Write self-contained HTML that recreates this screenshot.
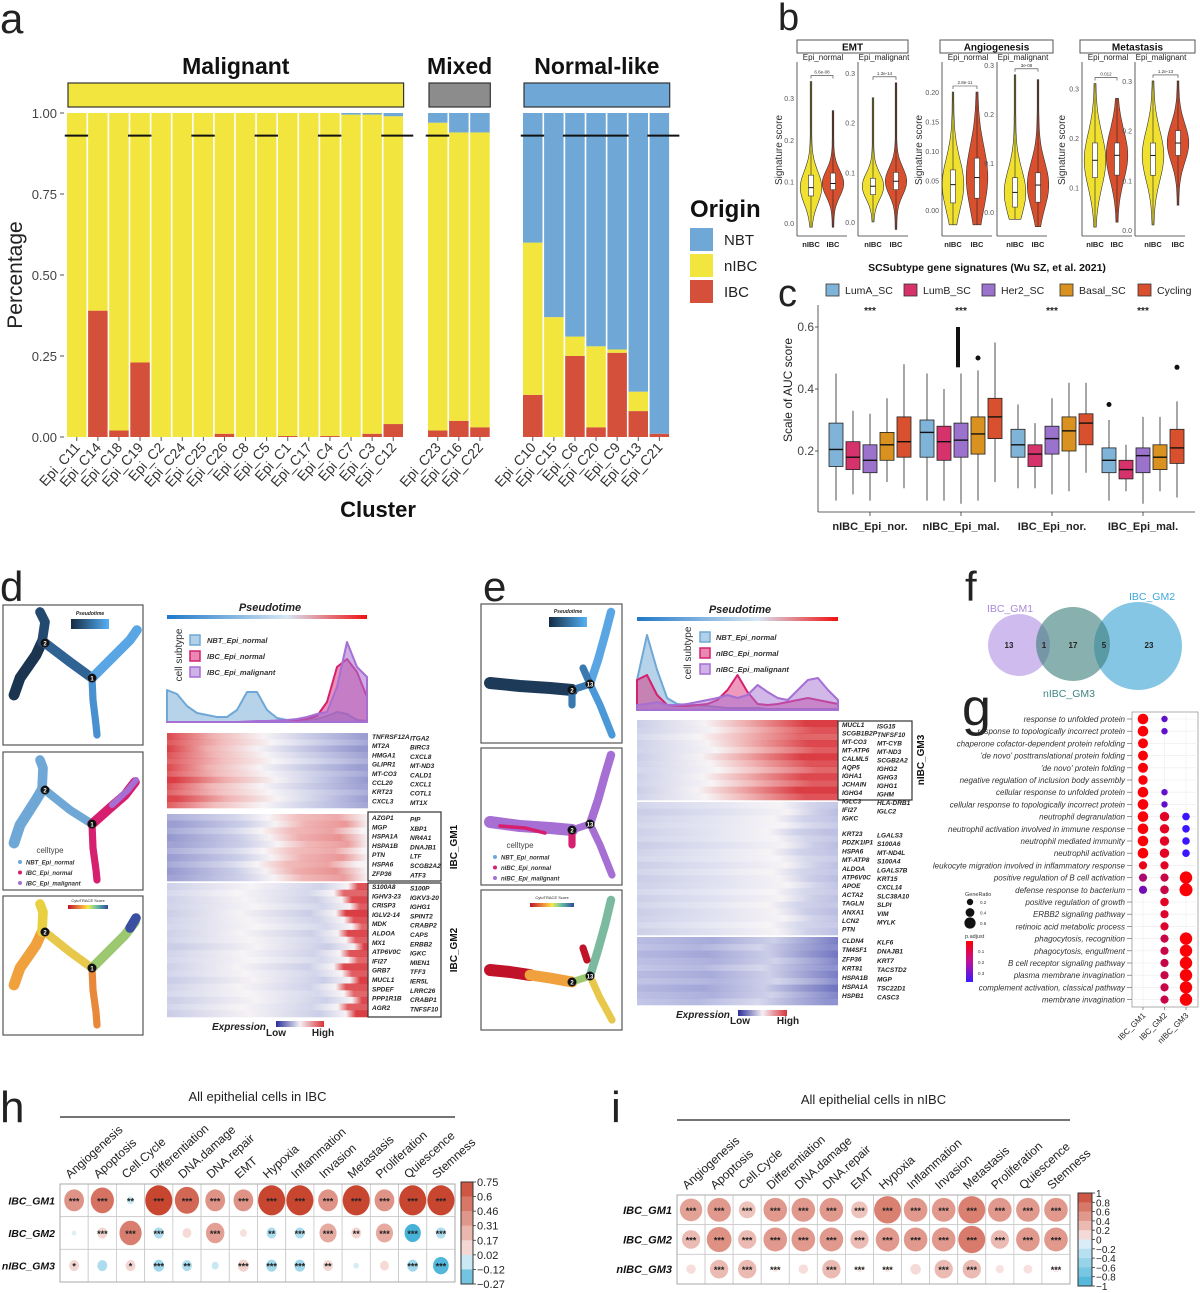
<!DOCTYPE html>
<html><head><meta charset="utf-8"><style>
html,body{margin:0;padding:0;background:#fff;}
svg{display:block;font-family:"Liberation Sans",sans-serif;}
</style></head><body>
<svg id="fig" width="1200" height="1293" viewBox="0 0 1200 1293" xmlns="http://www.w3.org/2000/svg">
<defs>
<linearGradient id="ptime" x1="0" x2="1"><stop offset="0" stop-color="#1f78c8"/><stop offset="0.6" stop-color="#d6e6f4"/><stop offset="1" stop-color="#f01010"/></linearGradient>
<linearGradient id="exprg" x1="0" x2="1"><stop offset="0" stop-color="#2a2e9a"/><stop offset="0.5" stop-color="#f4f0f4"/><stop offset="1" stop-color="#d8343a"/></linearGradient>
<linearGradient id="padj" x1="0" x2="0" y1="0" y2="1"><stop offset="0" stop-color="#ff0000"/><stop offset="0.5" stop-color="#c0109a"/><stop offset="1" stop-color="#3a1aff"/></linearGradient>
<linearGradient id="ptleg" x1="0" x2="1"><stop offset="0" stop-color="#132b43"/><stop offset="1" stop-color="#56b1f7"/></linearGradient>
<linearGradient id="cytoleg" x1="0" x2="1"><stop offset="0" stop-color="#c0132a"/><stop offset="0.35" stop-color="#f6a13c"/><stop offset="0.5" stop-color="#f5e94a"/><stop offset="0.7" stop-color="#6cc3a0"/><stop offset="1" stop-color="#2c4aa0"/></linearGradient>
</defs>
</svg>
<script>
const svg=document.getElementById('fig');
const NS='http://www.w3.org/2000/svg';
function mk(tag,attrs,name,parent){
  const el=document.createElementNS(NS,tag);
  for(const k in attrs) el.setAttribute(k,attrs[k]);
  
  
  (parent||svg).appendChild(el);
  return el;
}
function tx(x,y,s,o,name){
  o=o||{};
  const a={x:x,y:y,'font-size':o.fs||10,fill:o.fill||'#222','text-anchor':o.anchor||'start'};
  if(o.w) a['font-weight']=o.w;
  if(o.it) a['font-style']='italic';
  if(o.rot!==undefined) a.transform='rotate('+o.rot+' '+x+' '+y+')';
  const el=mk('text',a,name||'label');
  el.textContent=s;
  return el;
}
function line(x1,y1,x2,y2,st,sw,name){return mk('line',{x1,y1,x2,y2,stroke:st||'#333','stroke-width':sw||1},name||'line');}
function rect(x,y,w,h,f,st,name,sw){const a={x,y,width:w,height:h,fill:f};if(st){a.stroke=st;a['stroke-width']=sw||1;}return mk('rect',a,name||'rect');}

/* ================= PANEL A ================= */
const aClusters=['Epi_C11','Epi_C14','Epi_C18','Epi_C19','Epi_C2','Epi_C24','Epi_C25','Epi_C26','Epi_C8','Epi_C5','Epi_C1','Epi_C17','Epi_C4','Epi_C7','Epi_C3','Epi_C12','Epi_C23','Epi_C16','Epi_C22','Epi_C10','Epi_C15','Epi_C6','Epi_C20','Epi_C9','Epi_C13','Epi_C21'];
const aGroup=[0,0,0,0,0,0,0,0,0,0,0,0,0,0,0,0,1,1,1,2,2,2,2,2,2,2];
const aIBC=[0,0.39,0.02,0.23,0,0,0,0.01,0,0,0.003,0,0.003,0,0.01,0.04,0.02,0.05,0.03,0.13,0,0.25,0.03,0.26,0.08,0.01];
const aNIBC=[1,0.61,0.98,0.77,1,1,1,0.99,1,1,0.997,1,0.997,0.995,0.985,0.95,0.95,0.89,0.91,0.47,0.37,0.06,0.25,0.01,0.06,0];
const aNBT=[0,0,0,0,0,0,0,0,0,0,0,0,0,0.005,0.005,0.01,0.03,0.06,0.06,0.40,0.63,0.69,0.72,0.73,0.86,0.99];
const aGroupNames=['Malignant','Mixed','Normal-like'];
const aGroupColors=['#f2e53d','#8c8c8c','#6fa8d6'];
const aYTicks=[0,0.25,0.5,0.75,1];
const aMedian=[0.93,0.93,0.93];
const aY=v=>437-v*324;
const aStart=[67,428,523],aStep=21.1,aBW=19.5;
const col={NBT:'#6fa8d6',nIBC:'#f2e53d',IBC:'#d4503a'};
tx(0,33,'a',{fs:42},'panel-a-label');
tx(22,275,'Percentage',{fs:21,anchor:'middle',rot:-90},'y-axis-title');
aYTicks.forEach(t=>{tx(57,aY(t)+5,t.toFixed(2),{fs:13,anchor:'end',fill:'#444'},'y-tick-label');line(60,aY(t),64,aY(t),'#555',1,'y-tick');});
aClusters.forEach((c,i)=>{
  const g=aGroup[i];const k=aClusters.slice(0,i).filter((_,j)=>aGroup[j]===g).length;
  const x=aStart[g]+k*aStep;
  let y0=0;
  [[aIBC[i],col.IBC,'bar-ibc'],[aNIBC[i],col.nIBC,'bar-nibc'],[aNBT[i],col.NBT,'bar-nbt']].forEach(s=>{
    if(s[0]>0) rect(x,aY(y0+s[0]),aBW,s[0]*324,s[1],null,s[2]+'-'+c);
    y0+=s[0];
  });
  const cx=x+aBW/2;
  line(cx,437,cx,441,'#555',1,'x-tick');
  tx(cx+4,448,c,{fs:14,anchor:'end',rot:-48,fill:'#333'},'x-tick-label');
  if(k%3===0 || (g===2&&k%2===0)) line(cx-12,aY(aMedian[g]),cx+20,aY(aMedian[g]),'#111',2,'median-line');
});
const aGroupCounts=[16,3,7];
aGroupNames.forEach((n,g)=>{
  const x0=aStart[g]+1,w=aGroupCounts[g]*aStep-2;
  rect(x0,83,w,24,aGroupColors[g],'#333','group-header-'+n.toLowerCase(),1.2);
  tx(x0+w/2,74,n,{fs:23,w:'bold',anchor:'middle',fill:'#111'},'group-title');
});
tx(378,517,'Cluster',{fs:22,w:'bold',anchor:'middle',fill:'#111'},'x-axis-title');
tx(690,217,'Origin',{fs:24,w:'bold',fill:'#111'},'legend-title');
[['NBT',col.NBT],['nIBC',col.nIBC],['IBC',col.IBC]].forEach((l,i)=>{
  rect(690,228+i*26,23,23,l[1],null,'legend-swatch-'+l[0]);
  tx(724,245+i*26,l[0],{fs:15,fill:'#222'},'legend-entry');
});

/* ================= PANEL B ================= */
tx(778,30,'b',{fs:38},'panel-b-label');
const bTitles=['EMT','Angiogenesis','Metastasis'];
const bTitleX=[[797,908],[940,1053],[1080,1195]];
const bSubs=['Epi_normal','Epi_malignant'];
const bAxisX=[797,858,942,997,1082,1135];
const bZeroY=[223,222,210,212,237,230];
const bPerUnit=[416,497,590,490,495,497];
const bTicks=[[0,0.1,0.2,0.3],[0,0.1,0.2,0.3],[0,0.05,0.1,0.15,0.2],[0,0.1,0.2,0.3],[0.1,0.2,0.3],[0,0.1,0.2,0.3]];
const bPval=['6.6e-08','1.3e-14','2.8e-11','3e-08','0.012','1.2e-13'];
const bCenters=[[811,833],[873,896],[953,977],[1015,1038],[1095,1117],[1153,1178]];
const bNIBC=[[-0.01,0.065,0.085,0.115,0.34],[0,0.055,0.072,0.088,0.25],[-0.025,0.012,0.043,0.068,0.2],[-0.015,0.01,0.04,0.07,0.28],[0.02,0.12,0.155,0.19,0.31],[0.01,0.11,0.15,0.175,0.3]];
const bIBC=[[-0.01,0.08,0.095,0.12,0.27],[-0.015,0.065,0.082,0.1,0.28],[-0.025,0.02,0.055,0.088,0.2],[-0.03,0.02,0.055,0.08,0.27],[0.03,0.125,0.165,0.19,0.28],[0.05,0.15,0.175,0.2,0.3]];
bTitles.forEach((t,i)=>{
  const [a,b]=bTitleX[i];
  rect(a,40,b-a,13,'#fff','#555','strip-'+t.toLowerCase(),1);
  tx((a+b)/2,50.5,t,{fs:10,w:'bold',anchor:'middle',fill:'#111'},'strip-title');
  tx([782,922,1065][i],150,'Signature score',{fs:10,anchor:'middle',rot:-90,fill:'#333'},'y-axis-title');
});
function violin(cx,st,yf,fill,name){
  const [lo,q1,med,q3,hi]=st;const sp=Math.max(q3-q1,0.01)*1.1;
  let L=[],R=[];
  for(let j=0;j<=30;j++){const v=lo+(hi-lo)*j/30;let w=10*Math.exp(-Math.pow((v-med)/sp,2))+0.8;L.push([cx-w,yf(v)]);R.push([cx+w,yf(v)]);}
  const d='M'+L.map(p=>p[0].toFixed(1)+','+p[1].toFixed(1)).join('L')+'L'+R.reverse().map(p=>p[0].toFixed(1)+','+p[1].toFixed(1)).join('L')+'Z';
  mk('path',{d,fill,stroke:'#333','stroke-width':0.6},name);
  line(cx,yf(lo),cx,yf(hi),'#222',0.6,'violin-whisker');
  rect(cx-2.5,yf(q3),5,yf(q1)-yf(q3),'#fff','#333','violin-box',0.6);
  line(cx-2.5,yf(med),cx+2.5,yf(med),'#111',1,'violin-median');
}
bAxisX.forEach((ax,s)=>{
  const yf=v=>bZeroY[s]-v*bPerUnit[s];
  const right=ax+50;
  line(ax,62,ax,236,'#333',0.8,'y-axis-line');
  line(ax,236,right,236,'#333',0.8,'x-axis-line');
  bTicks[s].forEach(t=>{tx(ax-3,yf(t)+3,t===0?(s===2?'0.00':'0.0'):(s===2?t.toFixed(2):t.toFixed(1)),{fs:7,anchor:'end',fill:'#555'},'y-tick-label');});
  tx(ax+26,60,bSubs[s%2],{fs:8,anchor:'middle',fill:'#222'},'facet-label');
  const [c1,c2]=bCenters[s];
  violin(c1,bNIBC[s],yf,'#f0e130','violin-nibc');
  violin(c2,bIBC[s],yf,'#d9502f','violin-ibc');
  const by=yf(Math.max(bNIBC[s][4],bIBC[s][4]))-6;
  mk('path',{d:`M${c1},${by+3}V${by}H${c2}V${by+3}`,fill:'none',stroke:'#333','stroke-width':0.6},'significance-bracket');
  tx((c1+c2)/2,by-2,bPval[s],{fs:4.5,anchor:'middle',fill:'#333'},'p-value');
  tx(c1,247,'nIBC',{fs:7.5,w:'bold',anchor:'middle',fill:'#222'},'x-tick-label');
  tx(c2,247,'IBC',{fs:7.5,w:'bold',anchor:'middle',fill:'#222'},'x-tick-label');
});

/* ================= PANEL C ================= */
tx(778,306,'c',{fs:38},'panel-c-label');
tx(987,271,'SCSubtype gene signatures (Wu SZ, et al. 2021)',{fs:10.5,w:'bold',anchor:'middle',fill:'#111'},'chart-title');
const cSubtypes=['LumA_SC','LumB_SC','Her2_SC','Basal_SC','Cycling'];
const cColors=['#7fb3d8','#d6336c','#9b72cc','#d9921f','#d9502f'];
const cGroups=['nIBC_Epi_nor.','nIBC_Epi_mal.','IBC_Epi_nor.','IBC_Epi_mal.'];
const cYTicks=[0.2,0.4,0.6];
const cLumA=[[0.04,0.15,0.205,0.29,0.45],[0.04,0.18,0.26,0.30,0.45],[0.08,0.18,0.22,0.27,0.35],[0.04,0.13,0.17,0.21,0.30]];
const cLumB=[[0.06,0.14,0.18,0.23,0.33],[0.04,0.17,0.23,0.28,0.40],[0.08,0.15,0.19,0.22,0.29],[0.07,0.11,0.14,0.17,0.22]];
const cHer2=[[0.04,0.13,0.17,0.22,0.32],[0.03,0.18,0.235,0.29,0.45],[0.06,0.19,0.24,0.28,0.37],[0.03,0.13,0.185,0.21,0.31]];
const cBasal=[[0.10,0.17,0.22,0.26,0.37],[0.04,0.19,0.255,0.31,0.46],[0.07,0.20,0.265,0.31,0.42],[0.07,0.14,0.18,0.22,0.31]];
const cCyc=[[0.08,0.18,0.23,0.31,0.48],[0.10,0.24,0.31,0.37,0.55],[0.13,0.22,0.29,0.32,0.42],[0.05,0.16,0.21,0.27,0.36]];
const cSig=['***','***','***','***'];
const cY=v=>513-v*310;
const cGX=g=>870+g*91;
tx(792,390,'Scale of AUC score',{fs:12,anchor:'middle',rot:-90,fill:'#222'},'y-axis-title');
line(818,305,818,512,'#333',0.8,'y-axis-line');
line(818,512,1195,512,'#333',0.8,'x-axis-line');
cYTicks.forEach(t=>{tx(814,cY(t)+4,t.toFixed(1),{fs:12,anchor:'end',fill:'#444'},'y-tick-label');line(815,cY(t),818,cY(t),'#333',0.8,'y-tick');});
cSubtypes.forEach((s,i)=>{
  const lx=826+i*78;
  rect(lx,284,13,12,cColors[i],'#333','legend-swatch-'+s,0.8);
  tx(lx+19,294,s,{fs:10.5,fill:'#222'},'legend-entry');
});
[cLumA,cLumB,cHer2,cBasal,cCyc].forEach((arr,si)=>{
  arr.forEach((st,g)=>{
    const cx=cGX(g)+(si-2)*17;const [lo,q1,m,q3,hi]=st;
    line(cx,cY(lo),cx,cY(hi),'#222',0.8,'whisker');
    rect(cx-7,cY(q3),14,cY(q1)-cY(q3),cColors[si],'#222','box-'+cSubtypes[si]+'-'+cGroups[g],0.8);
    line(cx-7,cY(m),cx+7,cY(m),'#111',1.4,'box-median');
  });
});
mk('rect',{x:956,y:cY(0.6),width:4,height:cY(0.47)-cY(0.6),fill:'#111'},'outlier-cluster');
[[1,3,0.5],[3,4,0.47],[3,0,0.35]].forEach(o=>mk('circle',{cx:cGX(o[0])+(o[1]-2)*17,cy:cY(o[2]),r:2.5,fill:'#111'},'outlier'));
cGroups.forEach((g,i)=>{
  tx(cGX(i),314,cSig[i],{fs:10,w:'bold',anchor:'middle',fill:'#222'},'significance-label');
  line(cGX(i),512,cGX(i),516,'#333',0.8,'x-tick');
  tx(cGX(i),530,g,{fs:11,w:'bold',anchor:'middle',fill:'#222'},'x-tick-label');
});

/* ================= UMAP helpers ================= */
function umapBox(x,y,w,h,name){rect(x,y,w,h,'#fff','#555',name,1.2);}
function traj(pts,color,sw,name){mk('polyline',{points:pts.map(p=>p.join(',')).join(' '),fill:'none',stroke:color,'stroke-width':sw*1.2,'stroke-linecap':'round','stroke-linejoin':'round'},name);}
function node(x,y,l){mk('circle',{cx:x,cy:y,r:4.5,fill:'#111'},'branch-node');tx(x,y+2.5,l,{fs:6,w:'bold',anchor:'middle',fill:'#fff'},'node-label');}

/* ================= PANEL D ================= */
tx(0,601,'d',{fs:42},'panel-d-label');
umapBox(3,605,140,140,'umap-pseudotime');
traj([[14,695],[20,678],[36,655],[42,642]],'#1b3550',9,'branch-left');
traj([[42,642],[45,622],[40,612]],'#24496e',8,'branch-top');
traj([[45,643],[70,662],[92,678]],'#2f6394',8,'branch-mid');
traj([[92,678],[115,655],[130,640],[137,630]],'#5aa6e4',8,'branch-right');
traj([[92,678],[93,700],[96,725],[97,735]],'#4890cf',6,'branch-bottom');
node(45,643,'2');node(92,678,'1');
rect(71,619,38,10,'url(#ptleg)',null,'pseudotime-legend');
tx(90,615,'Pseudotime',{fs:5,w:'bold',it:true,anchor:'middle'},'legend-title');
umapBox(3,752,140,138,'umap-celltype');
traj([[14,843],[20,825],[36,800],[42,790]],'#6fa8d6',9,'branch-left');
traj([[42,790],[43,768],[40,760]],'#6fa8d6',8,'branch-top');
traj([[45,790],[70,810],[92,824]],'#6fa8d6',7,'branch-mid');
traj([[92,824],[110,808],[125,795],[135,782]],'#d6206f',8,'branch-right');
traj([[112,805],[128,790],[136,780]],'#a56fd4',5,'branch-right-mal');
traj([[92,824],[93,848],[96,870],[97,880]],'#d6206f',6,'branch-bottom');
node(45,790,'2');node(92,824,'1');
tx(50,853,'celltype',{fs:8,anchor:'middle',fill:'#444'},'legend-title');
[['NBT_Epi_normal','#6fa8d6'],['IBC_Epi_normal','#d6206f'],['IBC_Epi_malignant','#a56fd4']].forEach((l,i)=>{
  mk('circle',{cx:20,cy:862+i*10.5,r:2,fill:l[1]},'legend-dot');
  tx(26,864.5+i*10.5,l[0],{fs:6,w:'bold',it:true,fill:'#333'},'legend-entry');
});
umapBox(3,896,140,139,'umap-cytotrace');
traj([[14,985],[20,968],[36,945],[42,932]],'#f0a03c',9,'branch-left');
traj([[42,932],[43,912],[40,904]],'#e8d040',8,'branch-top');
traj([[45,932],[70,952],[92,968]],'#e8c84a',7,'branch-mid');
traj([[92,968],[110,950],[125,935],[135,922]],'#9cc870',8,'branch-right');
traj([[130,928],[136,918]],'#3a4fa0',8,'branch-right-tip');
traj([[92,968],[93,990],[96,1012],[97,1025]],'#e8883a',6,'branch-bottom');
node(45,932,'2');node(92,968,'1');
rect(68,905,40,4,'url(#cytoleg)',null,'cytotrace-legend');
tx(88,902,'CytoTRACE Score',{fs:4,anchor:'middle'},'legend-title');

function densityPanel(x0,x1,base,scale,series,colors,fills,name){
  series.forEach((arr,si)=>{
    const n=arr.length;const pts=arr.map((v,i)=>[x0+(x1-x0)*i/(n-1),base-v*scale]);
    let d='M'+x0+','+base+' L'+pts.map(p=>p[0].toFixed(1)+','+p[1].toFixed(1)).join(' L')+' L'+x1+','+base+'Z';
    mk('path',{d,fill:fills[si],stroke:colors[si],'stroke-width':2,'stroke-linejoin':'round'},name+'-'+si);
  });
}
tx(270,611,'Pseudotime',{fs:11,w:'bold',it:true,anchor:'middle'},'pseudotime-title');
rect(167,615,200,4,'url(#ptime)',null,'pseudotime-bar');
tx(182,655,'cell subtype',{fs:10,anchor:'middle',rot:-90,fill:'#333'},'legend-title');
const dNBT=[0.32,0.28,0.16,0.09,0.07,0.05,0.05,0.12,0.3,0.3,0.12,0.04,0.02,0.02,0.02,0.03,0.06,0.1,0.08,0.02,0.01];
const dIBCn=[0,0,0,0,0,0,0,0,0,0,0,0,0.01,0.02,0.03,0.06,0.2,0.55,0.63,0.5,0.25];
const dIBCm=[0,0,0,0,0,0,0,0,0.005,0.01,0.01,0.015,0.02,0.03,0.05,0.08,0.1,0.35,0.8,0.55,0.45];
densityPanel(167,367,722,100,[dNBT,dIBCn,dIBCm],['#6fa8d6','#d6206f','#a56fd4'],['rgba(111,168,214,0.5)','rgba(214,32,111,0.5)','rgba(165,111,212,0.55)'],'density-d');
[['NBT_Epi_normal','#6fa8d6'],['IBC_Epi_normal','#d6206f'],['IBC_Epi_malignant','#a56fd4']].forEach((l,i)=>{
  rect(190,635+i*16,10,10,l[1]+'88',l[1],'legend-swatch',1.5);
  tx(207,643+i*16,l[0],{fs:7.5,w:'bold',it:true,fill:'#333'},'legend-entry');
});
function heatBlock(x,y,w,h,nrows,stops,seed,name){
  for(let r=0;r<nrows;r++){
    const id=name+'g'+r;
    const g=mk('linearGradient',{id,x1:0,x2:1},'row-gradient',svg.querySelector('defs'));
    const shift=((r*37+seed)%11-5)/100;
    stops.forEach(s=>{mk('stop',{offset:Math.min(1,Math.max(0,s[0]+shift)),'stop-color':s[1],'stop-opacity':0.75+((r*13+seed)%5)/20},'gradient-stop',g);});
    rect(x,y+r*h/nrows,w,h/nrows+0.3,'url(#'+id+')',null,name+'-row');
  }
}
const RED='#d8343a',LRED='#eeaaaa',WH='#f5f1f4',LBL='#c8cbe6',BL='#8f93cc';
heatBlock(167,733,201,75,12,[[0,RED],[0.25,LRED],[0.5,WH],[0.7,LBL],[1,BL]],3,'heat-d1');
heatBlock(167,814,201,67,10,[[0,BL],[0.35,LBL],[0.5,WH],[0.65,LRED],[0.85,'#e88c8c'],[1,WH]],5,'heat-d2');
heatBlock(167,883,201,134,20,[[0,LBL],[0.4,WH],[0.75,LBL],[0.88,WH],[0.93,RED],[1,RED]],7,'heat-d3');
const dGenes1=[['TNFRSF12A','ITGA2'],['MT2A','BIRC3'],['HMGA1','CXCL8'],['GLIPR1','MT-ND3'],['MT-CO3','CALD1'],['CCL20','CXCL1'],['KRT23','COTL1'],['CXCL3','MT1X']];
const dGenes2=[['AZGP1','PIP'],['MGP','XBP1'],['HSPA1A','NR4A1'],['HSPA1B','DNAJB1'],['PTN','LTF'],['HSPA6','SCGB2A2'],['ZFP36','ATF3']];
const dGenes3=[['S100A8','S100P'],['IGHV3-23','IGKV3-20'],['CRISP3','IGHG1'],['IGLV2-14','SPINT2'],['MDK','CRABP2'],['ALDOA','CAPS'],['MX1','ERBB2'],['ATP6V0C','IGKC'],['IFI27','MIEN1'],['GRB7','TFF3'],['MUCL1','IER5L'],['SPDEF','LRRC26'],['PPP1R1B','CRABP1'],['AGR2','TNFSF10']];
function geneList(list,x1,x2,y0,dy,name){list.forEach((p,i)=>{tx(x1,y0+i*dy,p[0],{fs:6.5,w:'bold',it:true,fill:'#222'},name);tx(x2,y0+i*dy+1.5,p[1],{fs:6.5,w:'bold',it:true,fill:'#222'},name);});}
geneList(dGenes1,372,410,739,9.2,'gene-label');
geneList(dGenes2,372,410,820,9.3,'gene-label');
geneList(dGenes3,372,410,889,9.3,'gene-label');
rect(368,812,73,69,'none','#333','gm1-gene-box',1.2);
rect(368,883,73,134,'none','#333','gm2-gene-box',1.2);
tx(457,847,'IBC_GM1',{fs:10,w:'bold',anchor:'middle',rot:-90,fill:'#111'},'module-label');
tx(457,950,'IBC_GM2',{fs:10,w:'bold',anchor:'middle',rot:-90,fill:'#111'},'module-label');
tx(212,1030,'Expression',{fs:10,w:'bold',it:true,fill:'#222'},'expression-legend-title');
rect(276,1021,48,6,'url(#exprg)',null,'expression-gradient');
tx(276,1036,'Low',{fs:10,w:'bold',anchor:'middle'},'legend-label');
tx(323,1036,'High',{fs:10,w:'bold',anchor:'middle'},'legend-label');

/* ================= PANEL E ================= */
tx(483,601,'e',{fs:42},'panel-e-label');
umapBox(481,604,141,139,'umap-pseudotime-e');
traj([[490,683],[520,686],[550,688],[572,690]],'#1d3a58',10,'branch-left');
traj([[572,690],[590,684]],'#3a78b0',6,'branch-mid');
traj([[590,684],[598,660],[605,635],[611,612]],'#5aa6e4',7,'branch-top');
traj([[590,684],[600,705],[612,735]],'#4a98d8',6,'branch-bottom');
traj([[572,690],[572,705]],'#3a78b0',6,'branch-stub');
traj([[590,684],[583,668]],'#3a78b0',6,'branch-stub');
node(572,690,'2');node(590,684,'13');
rect(549,617,38,10,'url(#ptleg)',null,'pseudotime-legend');
tx(568,613,'Pseudotime',{fs:5,w:'bold',it:true,anchor:'middle'},'legend-title');
umapBox(481,748,141,137,'umap-celltype-e');
traj([[490,822],[520,826],[550,828],[572,830]],'#a56fd4',10,'branch-left');
traj([[500,826],[525,828],[545,833]],'#d6206f',3,'branch-left-n');
traj([[572,830],[590,824]],'#a56fd4',6,'branch-mid');
traj([[590,824],[598,800],[605,775],[611,755]],'#a56fd4',7,'branch-top');
traj([[590,824],[600,845],[612,875]],'#a56fd4',6,'branch-bottom');
traj([[572,830],[572,845]],'#d6206f',6,'branch-stub');
node(572,830,'2');node(590,824,'13');
tx(520,848,'celltype',{fs:8,anchor:'middle',fill:'#444'},'legend-title');
[['NBT_Epi_normal','#6fa8d6'],['nIBC_Epi_normal','#d6206f'],['nIBC_Epi_malignant','#a56fd4']].forEach((l,i)=>{
  mk('circle',{cx:495,cy:857+i*10.5,r:2,fill:l[1]},'legend-dot');
  tx(501,859.5+i*10.5,l[0],{fs:6,w:'bold',it:true,fill:'#333'},'legend-entry');
});
umapBox(481,890,141,140,'umap-cytotrace-e');
traj([[490,970],[510,972],[530,975]],'#c0132a',10,'branch-left');
traj([[530,975],[550,978],[572,982]],'#f0a03c',9,'branch-left2');
traj([[572,982],[590,976]],'#9cc870',6,'branch-mid');
traj([[590,976],[598,950],[605,925],[611,900]],'#7cbaa0',7,'branch-top');
traj([[590,976],[600,998],[612,1020]],'#e8c84a',6,'branch-bottom');
traj([[587,960],[583,948]],'#c0132a',6,'branch-stub');
node(572,982,'2');node(590,976,'13');
rect(530,903,44,4,'url(#cytoleg)',null,'cytotrace-legend');
tx(552,899,'CytoTRACE Score',{fs:4,anchor:'middle'},'legend-title');
tx(740,613,'Pseudotime',{fs:11,w:'bold',it:true,anchor:'middle'},'pseudotime-title');
rect(637,617,201,4,'url(#ptime)',null,'pseudotime-bar');
tx(691,653,'cell subtype',{fs:10,anchor:'middle',rot:-90,fill:'#333'},'legend-title');
const eNBT=[0.3,0.75,0.4,0.12,0.06,0.05,0.05,0.04,0.03,0.02,0.02,0.02,0.02,0.01,0.01,0.01,0.01,0.01,0.01,0.01,0.01];
const eNIBCn=[0.3,0.35,0.15,0.05,0.04,0.04,0.05,0.06,0.1,0.2,0.35,0.18,0.06,0.05,0.06,0.08,0.1,0.12,0.1,0.08,0.06];
const eNIBCm=[0.05,0.06,0.08,0.05,0.05,0.06,0.08,0.1,0.12,0.15,0.12,0.15,0.25,0.18,0.12,0.1,0.2,0.3,0.32,0.2,0.1];
densityPanel(637,838,710,100,[eNBT,eNIBCn,eNIBCm],['#6fa8d6','#d6206f','#a56fd4'],['rgba(111,168,214,0.5)','rgba(214,32,111,0.45)','rgba(165,111,212,0.5)'],'density-e');
[['NBT_Epi_normal','#6fa8d6'],['nIBC_Epi_normal','#d6206f'],['nIBC_Epi_malignant','#a56fd4']].forEach((l,i)=>{
  rect(700,632+i*16,10,10,l[1]+'88',l[1],'legend-swatch',1.5);
  tx(716,640+i*16,l[0],{fs:7.5,w:'bold',it:true,fill:'#333'},'legend-entry');
});
heatBlock(637,720,201,80,12,[[0,LBL],[0.35,WH],[0.55,LRED],[0.85,RED],[1,RED]],4,'heat-e1');
heatBlock(637,802,201,133,20,[[0,LBL],[0.4,'#dfe0f0'],[0.7,WH],[0.85,LBL],[1,'#b7bae0']],6,'heat-e2');
heatBlock(637,937,201,68,10,[[0,'#b0b4de'],[0.35,'#9ea2d6'],[0.65,LBL],[0.85,BL],[1,'#6a6fbf']],8,'heat-e3');
const eGenes1=[['MUCL1','ISG15'],['SCGB1B2P','TNFSF10'],['MT-CO3','MT-CYB'],['MT-ATP6','MT-ND3'],['CALML5','SCGB2A2'],['AQP5','IGHG2'],['IGHA1','IGHG3'],['JCHAIN','IGHG1'],['IGHG4','IGHM'],['IGLC3','HLA-DRB1'],['IFI27','IGLC2'],['IGKC','']];
const eGenes2=[['KRT23','LGALS3'],['PDZK1IP1','S100A6'],['HSPA6','MT-ND4L'],['MT-ATP8','S100A4'],['ALDOA','LGALS7B'],['ATP6V0C','KRT15'],['APOE','CXCL14'],['ACTA2','SLC38A10'],['TAGLN','SLPI'],['ANXA1','VIM'],['LCN2','MYLK'],['PTN','']];
const eGenes3=[['CLDN4','KLF6'],['TM4SF1','DNAJB1'],['ZFP36','KRT7'],['KRT81','TACSTD2'],['HSPA1B','MGP'],['HSPA1A','TSC22D1'],['HSPB1','CASC3']];
geneList(eGenes1,842,877,727,8.5,'gene-label');
geneList(eGenes2,842,877,836,8.7,'gene-label');
geneList(eGenes3,842,877,943,9.2,'gene-label');
rect(838,721,74,79,'none','#333','gm3-gene-box',1.2);
tx(924,760,'nIBC_GM3',{fs:10,w:'bold',anchor:'middle',rot:-90,fill:'#111'},'module-label');
tx(676,1018,'Expression',{fs:10,w:'bold',it:true,fill:'#222'},'expression-legend-title');
rect(738,1010,49,6,'url(#exprg)',null,'expression-gradient');
tx(740,1024,'Low',{fs:10,w:'bold',anchor:'middle'},'legend-label');
tx(788,1024,'High',{fs:10,w:'bold',anchor:'middle'},'legend-label');

/* ================= PANEL F ================= */
tx(965,601,'f',{fs:42},'panel-f-label');
const fSets=['IBC_GM1','nIBC_GM3','IBC_GM2'];
const fCounts=[13,1,17,5,23];
mk('circle',{cx:1019,cy:645,r:31,fill:'#cdb7ee',opacity:0.95},'venn-ibc-gm1');
mk('circle',{cx:1138,cy:646,r:44,fill:'#7ec3e3',opacity:0.95},'venn-ibc-gm2');
mk('circle',{cx:1073,cy:644,r:37,fill:'#3f7f7c',opacity:0.62},'venn-nibc-gm3');
tx(1010,612,fSets[0],{fs:10.5,anchor:'middle',fill:'#a78bd9'},'venn-label');
tx(1152,600,fSets[2],{fs:10.5,anchor:'middle',fill:'#3fa6d8'},'venn-label');
tx(1069,697,fSets[1],{fs:10.5,anchor:'middle',fill:'#3f8584'},'venn-label');
[1009,1044,1073,1104,1149].forEach((x,i)=>tx(x,648,String(fCounts[i]),{fs:8,w:'bold',anchor:'middle',fill:'#222'},'venn-count'));

/* ================= PANEL G ================= */
tx(962,725,'g',{fs:52},'panel-g-label');
const gTerms=['response to unfolded protein','response to topologically incorrect protein','chaperone cofactor-dependent protein refolding',"'de novo' posttranslational protein folding","'de novo' protein folding",'negative regulation of inclusion body assembly','cellular response to unfolded protein','cellular response to topologically incorrect protein','neutrophil degranulation','neutrophil activation involved in immune response','neutrophil mediated immunity','neutrophil activation','leukocyte migration involved in inflammatory response','positive regulation of B cell activation','defense response to bacterium','positive regulation of growth','ERBB2 signaling pathway','retinoic acid metabolic process','phagocytosis, recognition','phagocytosis, engulfment','B cell receptor signaling pathway','plasma membrane invagination','complement activation, classical pathway','membrane invagination'];
const gModules=['IBC_GM1','IBC_GM2','nIBC_GM3'];
const gRatioGM1=[0.55,0.55,0.5,0.5,0.5,0.45,0.55,0.55,0.55,0.55,0.55,0.55,0.35,0.35,0.35,0,0,0,0,0,0,0,0,0];
const gPadjGM1=[0.01,0.01,0.01,0.01,0.01,0.01,0.01,0.01,0.01,0.01,0.01,0.01,0.03,0.15,0.25,0,0,0,0,0,0,0,0,0];
const gRatioGM2=[0.2,0.2,0,0,0,0,0.2,0.2,0.45,0.45,0.45,0.45,0.35,0.35,0.38,0.38,0.35,0.35,0.35,0.35,0.35,0.35,0.35,0.35];
const gPadjGM2=[0.28,0.28,0,0,0,0,0.28,0.28,0.05,0.05,0.05,0.05,0.05,0.1,0.1,0.05,0.06,0.06,0.1,0.1,0.1,0.1,0.1,0.1];
const gRatioGM3=[0,0,0,0,0,0,0,0,0.3,0.3,0.3,0.3,0,0.7,0.75,0,0,0,0.7,0.7,0.7,0.7,0.7,0.7];
const gPadjGM3=[0,0,0,0,0,0,0,0,0.35,0.35,0.35,0.35,0,0.01,0.01,0,0,0,0.01,0.01,0.01,0.01,0.01,0.01];
const gX0=1132,gX1=1198,gY0=712,gY1=1007;
const gColX=i=>1143+i*21.5;
const gRowY=r=>719+r*12.2;
rect(gX0,gY0,gX1-gX0,gY1-gY0,'#fff','#999','dotplot-frame',0.8);
gModules.forEach((m,i)=>{line(gColX(i),gY0,gColX(i),gY1,'#ececec',0.6,'grid-line');});
gTerms.forEach((t,r)=>{
  line(gX0,gRowY(r),gX1,gRowY(r),'#ececec',0.6,'grid-line');
  tx(1125,gRowY(r)+3,t,{fs:8,it:true,anchor:'end',fill:'#333'},'term-label');
  line(1127,gRowY(r),1132,gRowY(r),'#555',0.6,'y-tick');
});
function padjColor(p){const t=Math.min(1,p/0.35);const r=Math.round(255*(1-t)+60*t),b=Math.round(255*t);return `rgb(${r},${Math.round(20*t)},${b})`;}
[[gRatioGM1,gPadjGM1],[gRatioGM2,gPadjGM2],[gRatioGM3,gPadjGM3]].forEach((s,ci)=>{
  s[0].forEach((v,r)=>{if(v>0) mk('circle',{cx:gColX(ci),cy:gRowY(r),r:2+v*6,fill:padjColor(s[1][r])},'dot-'+gModules[ci]);});
});
gModules.forEach((m,i)=>{line(gColX(i),gY1,gColX(i),gY1+3,'#555',0.6,'x-tick');tx(gColX(i)+3,gY1+9,m,{fs:8,anchor:'end',rot:-45,fill:'#222'},'x-tick-label');});
tx(965,896,'GeneRatio',{fs:5.5,fill:'#333'},'legend-title');
[0.2,0.4,0.6].forEach((v,i)=>{mk('circle',{cx:970,cy:902+i*10.5,r:2+v*6,fill:'#111'},'size-legend-dot');tx(980,904+i*10.5,String(v),{fs:4.5,fill:'#333'},'legend-label');});
tx(965,938,'p.adjust',{fs:5.5,fill:'#333'},'legend-title');
rect(966,941,7,41,'url(#padj)',null,'padj-colorbar');
['0.1','0.2','0.3'].forEach((l,i)=>tx(978,953+i*11,l,{fs:4.5,fill:'#333'},'legend-label'));

/* ================= PANELS H & I ================= */
const hiCats=['Angiogenesis','Apoptosis','Cell.Cycle','Differentiation','DNA.damage','DNA.repair','EMT','Hypoxia','Inflammation','Invasion','Metastasis','Proliferation','Quiescence','Stemness'];
const hiRows=['IBC_GM1','IBC_GM2','nIBC_GM3'];
const hGM1=[0.40,0.55,-0.05,0.75,0.6,0.4,0.4,0.75,0.75,0.4,0.75,0.4,0.75,0.75];
const hGM2=[-0.02,0.1,0.5,-0.1,0.08,0.35,0.05,-0.1,-0.1,0.3,0.1,0.3,-0.27,-0.1];
const hGM3=[0.1,-0.1,0.1,-0.12,-0.1,-0.05,0.12,-0.12,-0.12,0.1,-0.03,0.08,-0.12,-0.25];
const hStars1=['***','***','**','***','***','***','***','***','***','***','***','***','***','***'];
const hStars2=['','***','***','***','','***','','**','***','***','**','***','***','***'];
const hStars3=['*','','*','***','**','','***','***','***','**','','','***','***'];
const hCbarTicks=[0.75,0.6,0.46,0.31,0.17,0.02,-0.12,-0.27];
const iGM1=[0.45,0.5,0.25,0.5,0.5,0.5,0.25,0.65,0.5,0.5,0.65,0.5,0.5,0.5];
const iGM2=[0.3,0.55,0.3,0.5,0.5,0.5,0.3,0.5,0.5,0.5,0.68,0.3,0.5,0.5];
const iGM3=[0.08,0.3,0.3,0.03,0.08,0.3,0.03,0.03,0.1,0.3,0.3,0.06,0.07,0.03];
const iStars1=hiCats.map(()=>'***');
const iStars2=hiCats.map(()=>'***');
const iStars3=['','***','***','***','','***','***','***','','***','***','','','***'];
const iCbarTicks=[1,0.8,0.6,0.4,0.2,0,-0.2,-0.4,-0.6,-0.8,-1];
function corrColor(v,vmax,vmin){
  let a,b,t;
  if(v>=0){t=Math.min(1,v/vmax);a=[250,236,234];b=[200,70,48];}
  else{t=Math.min(1,v/vmin);a=[232,244,250];b=[70,178,215];}
  return `rgb(${a.map((c,k)=>Math.round(c+(b[k]-c)*t)).join(',')})`;
}
function corrPanel(o){
  tx(o.lx,o.ly,o.letter,{fs:44},'panel-'+o.letter+'-label');
  tx((o.x0+o.x1)/2,o.ty,o.title,{fs:13,anchor:'middle',fill:'#222'},'chart-title');
  line(o.x0,o.ty+16,o.x1,o.ty+16,'#222',1.2,'title-rule');
  const cw=(o.x1-o.x0)/14,rh=(o.y1-o.y0)/3;
  o.vals.forEach((row,ri)=>{
    tx(o.x0-5,o.y0+rh*ri+rh/2+4,hiRows[ri],{fs:o.rfs,w:'bold',it:true,anchor:'end',fill:'#111'},'row-label');
    row.forEach((v,ci)=>{
      const cx=o.x0+cw*ci+cw/2,cy=o.y0+rh*ri+rh/2;
      rect(o.x0+cw*ci,o.y0+rh*ri,cw,rh,'#fff','#c8c8c8','heat-cell',0.8);
      const s=Math.min(1,Math.sqrt(Math.abs(v)/o.smax));
      mk('ellipse',{cx,cy,rx:0.48*cw*s,ry:0.46*rh*s,fill:corrColor(v,o.vmax,o.vmin)},'corr-circle-'+hiRows[ri]+'-'+hiCats[ci]);
      if(o.stars[ri][ci]) tx(cx,cy+4,o.stars[ri][ci],{fs:9,w:'bold',anchor:'middle',fill:'#222'},'significance-stars');
    });
  });
  rect(o.x0,o.y0,o.x1-o.x0,o.y1-o.y0,'none','#aaa','grid-frame',1);
  hiCats.forEach((c,ci)=>{tx(o.x0+cw*ci+cw*0.35,o.y0-5,c,{fs:12,anchor:'start',rot:-42,fill:'#222'},'column-label');});
  const n=o.cticks.length;
  for(let k=0;k<n-1;k++){
    const yy=o.y0-2+(o.y1-o.y0+4)*k/(n-1),hh=(o.y1-o.y0+4)/(n-1);
    const mid=(o.cticks[k]+o.cticks[k+1])/2;
    rect(o.cx,yy,o.cwid,hh+0.3,corrColor(mid,o.vmax,o.vmin),null,'colorbar-segment');
  }
  rect(o.cx,o.y0-2,o.cwid,o.y1-o.y0+4,'none','#333','colorbar-frame',1);
  o.cticks.forEach((t,k)=>{
    const yy=o.y0-2+(o.y1-o.y0+4)*k/(n-1);
    line(o.cx+o.cwid,yy,o.cx+o.cwid+3,yy,'#333',0.8,'colorbar-tick');
    tx(o.cx+o.cwid+4,yy+4,(t<0?'\u2212':'')+String(Math.abs(t)),{fs:o.cfs,fill:'#222'},'colorbar-label');
  });
}
corrPanel({letter:'h',lx:0,ly:1122,title:'All epithelial cells in IBC',ty:1101,x0:60,x1:455,y0:1184,y1:1282,vals:[hGM1,hGM2,hGM3],stars:[hStars1,hStars2,hStars3],smax:0.75,vmax:0.75,vmin:-0.27,cticks:hCbarTicks,cx:461,cwid:12,cfs:11,rfs:10.5});
corrPanel({letter:'i',lx:611,ly:1122,title:'All epithelial cells in nIBC',ty:1104,x0:677,x1:1070,y0:1195,y1:1284,vals:[iGM1,iGM2,iGM3],stars:[iStars1,iStars2,iStars3],smax:0.65,vmax:1,vmin:-1,cticks:iCbarTicks,cx:1078,cwid:14,cfs:10,rfs:11});
</script>
</body></html>
